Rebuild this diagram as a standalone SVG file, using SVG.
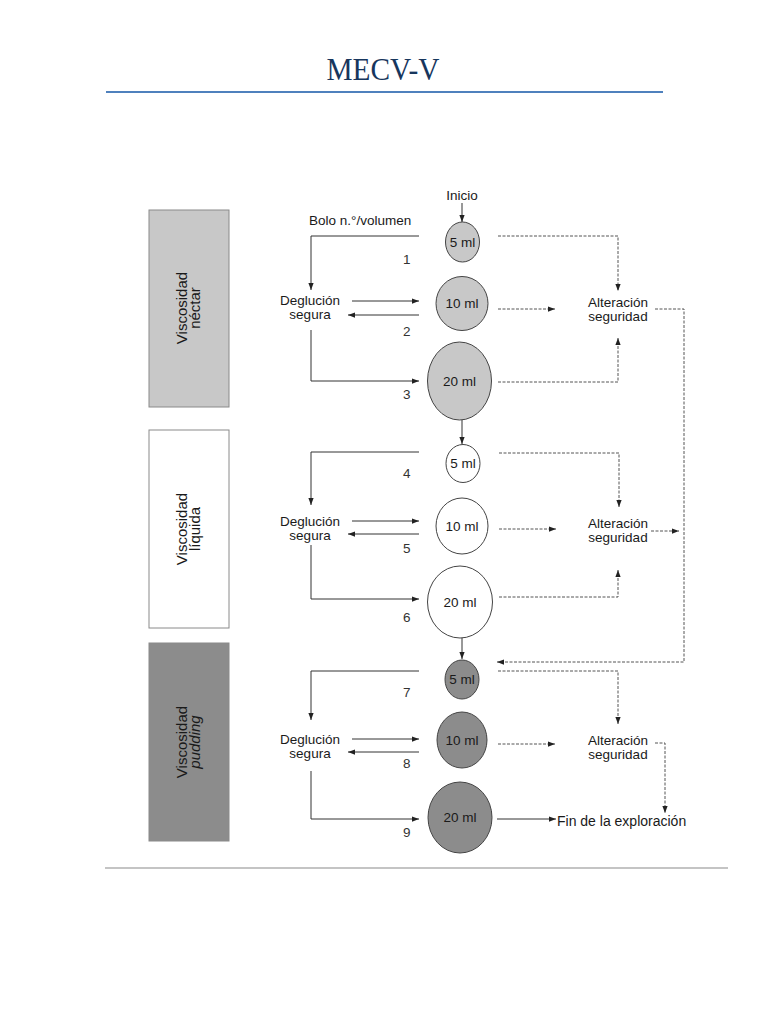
<svg xmlns="http://www.w3.org/2000/svg" width="768" height="1024" viewBox="0 0 768 1024">
<defs>
<marker id="ah" viewBox="0 0 8 6" refX="8" refY="3" markerWidth="7" markerHeight="5.5" markerUnits="userSpaceOnUse" orient="auto"><path d="M0,0 L8,3 L0,6 z" fill="#222"/></marker>
</defs>
<style>
.t{font-family:"Liberation Sans",Arial,sans-serif;font-size:13.5px;fill:#1a1a1a}
.c{text-anchor:middle}
.num{font-family:"Liberation Sans",Arial,sans-serif;font-size:13.5px;fill:#333}
.box{stroke:#8a8a8a;stroke-width:1}
.cir{stroke:#444;stroke-width:1}
.s{fill:none;stroke:#333;stroke-width:1}
.d{fill:none;stroke:#555;stroke-width:1;stroke-dasharray:3 1.5}
.arr{marker-end:url(#ah)}
</style>
<rect width="768" height="1024" fill="#fff"/>
<g id="header">
<text x="383" y="80" text-anchor="middle" font-family="'Liberation Serif','DejaVu Serif',serif" font-size="32" fill="#17365d" textLength="113" lengthAdjust="spacingAndGlyphs">MECV-V</text>
<line x1="106" y1="92" x2="663" y2="92" stroke="#4f81bd" stroke-width="2"/>
</g>
<g id="footer-line"><line x1="105" y1="868" x2="728" y2="868" stroke="#8a8a8a" stroke-width="1.2"/></g>

<g id="nectar-box">
<rect class="box" x="149" y="210" width="80" height="197" fill="#c8c8c8"/>
<text class="t c" style="font-size:15px" transform="translate(187,308) rotate(-90)">Viscosidad<tspan x="0" dy="13">néctar</tspan></text>
</g>
<g id="liquid-box">
<rect class="box" x="149" y="430" width="80" height="198" fill="#ffffff"/>
<text class="t c" style="font-size:15px" transform="translate(187,529) rotate(-90)">Viscosidad<tspan x="0" dy="13">líquida</tspan></text>
</g>
<g id="pudding-box">
<rect class="box" x="149" y="643" width="80" height="198" fill="#8c8c8c"/>
<text class="t c" style="font-size:15px" transform="translate(187,742) rotate(-90)">Viscosidad<tspan x="0" dy="13" font-style="italic">pudding</tspan></text>
</g>

<g id="labels">
<text class="t c" x="462" y="200">Inicio</text>
<text class="t" x="309" y="225">Bolo n.°/volumen</text>
<text class="num" x="403" y="264">1</text>
<text class="num" x="403" y="336">2</text>
<text class="num" x="403" y="399">3</text>
<text class="num" x="403" y="478">4</text>
<text class="num" x="403" y="553">5</text>
<text class="num" x="403" y="622">6</text>
<text class="num" x="403" y="697">7</text>
<text class="num" x="403" y="768">8</text>
<text class="num" x="403" y="837">9</text>
</g>

<g id="deg1"><text class="t c" x="310" y="305">Deglución<tspan x="310" dy="13.5">segura</tspan></text></g>
<g id="deg2"><text class="t c" x="310" y="526">Deglución<tspan x="310" dy="14">segura</tspan></text></g>
<g id="deg3"><text class="t c" x="310" y="744">Deglución<tspan x="310" dy="14">segura</tspan></text></g>

<g id="alt1"><text class="t c" x="618" y="307">Alteración<tspan x="618" dy="14">seguridad</tspan></text></g>
<g id="alt2"><text class="t c" x="618" y="528">Alteración<tspan x="618" dy="14">seguridad</tspan></text></g>
<g id="alt3"><text class="t c" x="618" y="745">Alteración<tspan x="618" dy="14">seguridad</tspan></text></g>
<g id="fin"><text class="t" x="557" y="826" style="font-size:14px">Fin de la exploración</text></g>

<g id="n5"><ellipse class="cir" cx="462.5" cy="242" rx="17" ry="20" fill="#c8c8c8"/><text class="t c" x="462.5" y="246.5">5 ml</text></g>
<g id="n10"><ellipse class="cir" cx="462" cy="303.5" rx="26" ry="27" fill="#c8c8c8"/><text class="t c" x="462" y="308">10 ml</text></g>
<g id="n20"><ellipse class="cir" cx="459.5" cy="381" rx="32" ry="39" fill="#c8c8c8"/><text class="t c" x="459.5" y="385.5">20 ml</text></g>

<g id="l5"><ellipse class="cir" cx="463" cy="463.5" rx="17" ry="19" fill="#fff"/><text class="t c" x="463" y="468">5 ml</text></g>
<g id="l10"><ellipse class="cir" cx="462" cy="526" rx="26" ry="28" fill="#fff"/><text class="t c" x="462" y="530.5">10 ml</text></g>
<g id="l20"><ellipse class="cir" cx="460" cy="602" rx="32.5" ry="36" fill="#fff"/><text class="t c" x="460" y="606.5">20 ml</text></g>

<g id="p5"><ellipse class="cir" cx="462" cy="679.5" rx="17" ry="19.5" fill="#8c8c8c"/><text class="t c" x="462" y="684">5 ml</text></g>
<g id="p10"><ellipse class="cir" cx="462" cy="740" rx="25" ry="28" fill="#8c8c8c"/><text class="t c" x="462" y="744.5">10 ml</text></g>
<g id="p20"><ellipse class="cir" cx="460" cy="817.5" rx="32" ry="35.5" fill="#8c8c8c"/><text class="t c" x="460" y="822">20 ml</text></g>

<g id="connectors">
<path class="s arr" d="M462,203 V222"/>
<path class="s arr" d="M462,420 V444"/>
<path class="s arr" d="M462,638 V659"/>

<path class="s arr" d="M419,236 H311 V290"/>
<path class="s arr" d="M352,301 H419"/>
<path class="s arr" d="M419,315 H348"/>
<path class="s arr" d="M311,330 V381 H419"/>

<path class="s arr" d="M419,452 H311 V505"/>
<path class="s arr" d="M352,521 H419"/>
<path class="s arr" d="M419,534 H348"/>
<path class="s arr" d="M311,545 V599 H419"/>

<path class="s arr" d="M419,671 H311 V720"/>
<path class="s arr" d="M352,739 H419"/>
<path class="s arr" d="M419,752 H348"/>
<path class="s arr" d="M311,771 V819 H419"/>

<path class="s arr" d="M497,819 H556"/>

<path class="d arr" d="M498,236 H618 V291"/>
<path class="d arr" d="M498,309 H555"/>
<path class="d arr" d="M498,382 H618 V338"/>
<path class="d arr" d="M655,309 H684 V662 H497"/>

<path class="d arr" d="M499,453 H619 V507"/>
<path class="d arr" d="M499,529 H556"/>
<path class="d arr" d="M499,597 H618 V570"/>
<path class="d arr" d="M651,531 H679"/>

<path class="d arr" d="M498,671 H618 V724"/>
<path class="d arr" d="M498,744 H555"/>
<path class="d arr" d="M655,743 H665 V813"/>
</g>
</svg>
